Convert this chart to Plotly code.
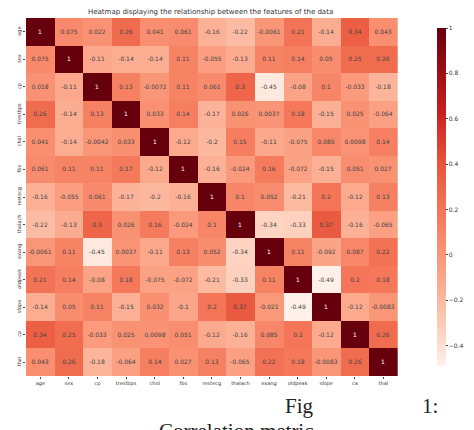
import plotly.graph_objects as go

features = ["age","sex","cp","trestbps","chol","fbs","restecg","thalach","exang","oldpeak","slope","ca","thal"]
corr = [
 [1, 0.075, 0.022, 0.26, 0.041, 0.061, -0.16, -0.22, -0.0061, 0.21, -0.14, 0.34, 0.043],
 [0.075, 1, -0.11, -0.14, -0.14, 0.11, -0.055, -0.13, 0.11, 0.14, 0.05, 0.25, 0.26],
 [0.018, -0.11, 1, 0.13, -0.0072, 0.11, 0.061, 0.3, -0.45, -0.08, 0.1, -0.033, -0.18],
 [0.26, -0.14, 0.13, 1, 0.033, 0.14, -0.17, 0.026, 0.0037, 0.18, -0.15, 0.025, -0.064],
 [0.041, -0.14, -0.0042, 0.033, 1, -0.12, -0.2, 0.15, -0.11, -0.075, 0.085, 0.0098, 0.14],
 [0.061, 0.11, 0.11, 0.17, -0.12, 1, -0.16, -0.024, 0.16, -0.072, -0.15, 0.051, 0.027],
 [-0.16, -0.055, 0.061, -0.17, -0.2, -0.16, 1, 0.1, 0.052, -0.21, 0.2, -0.12, 0.13],
 [-0.22, -0.13, 0.3, 0.026, 0.16, -0.024, 0.1, 1, -0.34, -0.33, 0.37, -0.16, -0.065],
 [-0.0061, 0.11, -0.45, 0.0037, -0.11, 0.13, 0.052, -0.34, 1, 0.11, -0.092, 0.087, 0.22],
 [0.21, 0.14, -0.08, 0.18, -0.075, -0.072, -0.21, -0.33, 0.11, 1, -0.49, 0.2, 0.18],
 [-0.14, 0.05, 0.11, -0.15, 0.032, -0.1, 0.2, 0.37, -0.021, -0.49, 1, -0.12, -0.0083],
 [0.34, 0.25, -0.033, 0.025, 0.0098, 0.051, -0.12, -0.16, 0.085, 0.2, -0.12, 1, 0.26],
 [0.043, 0.26, -0.18, -0.064, 0.14, 0.027, 0.13, -0.065, 0.22, 0.18, -0.0083, 0.26, 1],
]
title = "Heatmap displaying the relationship between the features of the data"

scale = [[0.0, "#fff1ea"], [0.15, "#fcc4ad"], [0.3, "#fb9c7e"], [0.45, "#f5785a"],
         [0.6, "#e8553b"], [0.75, "#c8201e"], [0.88, "#9b0d14"], [1.0, "#67000d"]]

fig = go.Figure(go.Heatmap(
    z=corr, x=features, y=features, colorscale=scale, zmin=-0.49, zmax=1,
    text=[[f"{v:.2g}" for v in r] for r in corr], texttemplate="%{text}",
    textfont=dict(size=6), xgap=0, ygap=0,
    colorbar=dict(thickness=9, len=1.0, y=0.5, yanchor="middle", x=0.955, outlinewidth=0,
                  tickvals=[-0.4,-0.2,0,0.2,0.4,0.6,0.8,1.0], ticks="outside", ticklen=2,
                  tickfont=dict(size=6, color="#333")),
))
fig.update_layout(
    width=474, height=430, margin=dict(l=10, r=8, t=10, b=62),
    plot_bgcolor="white", paper_bgcolor="white",
    font=dict(family="DejaVu Sans", size=6, color="#333"),
    xaxis=dict(domain=[0, 0.885], ticks="outside", ticklen=2, showgrid=False, tickangle=0, tickfont=dict(size=5)),
    yaxis=dict(autorange="reversed", ticks="outside", ticklen=2, showgrid=False, tickangle=-90, tickfont=dict(size=5)),
    annotations=[
        dict(text=title, x=0.44, xref="paper", y=1.0, yref="paper", yanchor="bottom", showarrow=False, font=dict(size=7, color="#333")),
        dict(text="Fig", x=0.69, xref="paper", y=-0.045, yref="paper", yanchor="top", showarrow=False,
             font=dict(family="Liberation Serif", size=21, color="#222")),
        dict(text="1:", x=0.985, xref="paper", y=-0.045, yref="paper", yanchor="top", showarrow=False,
             font=dict(family="Liberation Serif", size=21, color="#222")),
        dict(text="Correlation metric", x=0.69, xref="paper", y=-0.115, yref="paper", yanchor="top", showarrow=False,
             font=dict(family="Liberation Serif", size=21, color="#222")),
    ],
)
fig.write_html("out.html")
